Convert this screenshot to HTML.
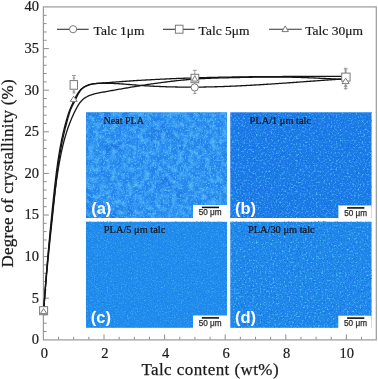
<!DOCTYPE html>
<html><head><meta charset="utf-8"><title>Degree of crystallinity vs talc content</title>
<style>html,body{margin:0;padding:0;background:#fff;} svg{display:block;}</style>
</head><body>
<svg width="378" height="379" viewBox="0 0 378 379">
<defs>
<filter id="n1" x="0" y="0" width="100%" height="100%" color-interpolation-filters="sRGB">
<feTurbulence type="fractalNoise" baseFrequency="0.04" numOctaves="2" seed="5" result="t0"/>
<feColorMatrix in="t0" type="matrix" values="0 0 0 0 0.098  0 0 0 0 0.431  0 0 0 0 0.882  2.5 0 0 0 -1.375" result="l0"/>
<feTurbulence type="fractalNoise" baseFrequency="0.18" numOctaves="4" seed="3" result="t1"/>
<feColorMatrix in="t1" type="matrix" values="0 0 0 0 0.333  0 0 0 0 0.725  0 0 0 0 0.980  2.0 0 0 0 -0.800" result="l1"/>
<feTurbulence type="fractalNoise" baseFrequency="0.6" numOctaves="2" seed="17" result="t2"/>
<feColorMatrix in="t2" type="matrix" values="0 0 0 0 0.373  0 0 0 0 0.765  0 0 0 0 0.988  3.0 0 0 0 -1.560" result="l2"/>
<feTurbulence type="fractalNoise" baseFrequency="0.9" numOctaves="1" seed="9" result="t3"/>
<feColorMatrix in="t3" type="matrix" values="0 0 0 0 0.588  0 0 0 0 0.843  0 0 0 0 0.988  4.0 0 0 0 -2.720" result="l3"/>
<feMerge><feMergeNode in="l0"/><feMergeNode in="l1"/><feMergeNode in="l2"/><feMergeNode in="l3"/></feMerge>
</filter>
<filter id="n2" x="0" y="0" width="100%" height="100%" color-interpolation-filters="sRGB">
<feTurbulence type="fractalNoise" baseFrequency="0.55" numOctaves="2" seed="7" result="t0"/>
<feColorMatrix in="t0" type="matrix" values="0 0 0 0 0.294  0 0 0 0 0.725  0 0 0 0 0.980  3.4 0 0 0 -1.768" result="l0"/>
<feTurbulence type="fractalNoise" baseFrequency="1.0" numOctaves="1" seed="57" result="t1"/>
<feColorMatrix in="t1" type="matrix" values="0 0 0 0 0.471  0 0 0 0 0.824  0 0 0 0 0.988  3.0 0 0 0 -1.860" result="l1"/>
<feTurbulence type="fractalNoise" baseFrequency="0.7" numOctaves="2" seed="97" result="t2"/>
<feColorMatrix in="t2" type="matrix" values="0 0 0 0 0.059  0 0 0 0 0.333  0 0 0 0 0.824  2.4 0 0 0 -1.392" result="l2"/>
<feMerge><feMergeNode in="l0"/><feMergeNode in="l1"/><feMergeNode in="l2"/></feMerge>
</filter>
<filter id="n3" x="0" y="0" width="100%" height="100%" color-interpolation-filters="sRGB">
<feTurbulence type="fractalNoise" baseFrequency="0.7" numOctaves="2" seed="11" result="t0"/>
<feColorMatrix in="t0" type="matrix" values="0 0 0 0 0.294  0 0 0 0 0.706  0 0 0 0 0.973  2.2 0 0 0 -1.144" result="l0"/>
<feTurbulence type="fractalNoise" baseFrequency="1.2" numOctaves="1" seed="61" result="t1"/>
<feColorMatrix in="t1" type="matrix" values="0 0 0 0 0.431  0 0 0 0 0.784  0 0 0 0 0.980  3.0 0 0 0 -1.920" result="l1"/>
<feTurbulence type="fractalNoise" baseFrequency="0.8" numOctaves="2" seed="101" result="t2"/>
<feColorMatrix in="t2" type="matrix" values="0 0 0 0 0.078  0 0 0 0 0.412  0 0 0 0 0.863  2.0 0 0 0 -1.200" result="l2"/>
<feMerge><feMergeNode in="l0"/><feMergeNode in="l1"/><feMergeNode in="l2"/></feMerge>
</filter>
<filter id="n4" x="0" y="0" width="100%" height="100%" color-interpolation-filters="sRGB">
<feTurbulence type="fractalNoise" baseFrequency="0.55" numOctaves="2" seed="13" result="t0"/>
<feColorMatrix in="t0" type="matrix" values="0 0 0 0 0.314  0 0 0 0 0.765  0 0 0 0 0.980  3.2 0 0 0 -1.696" result="l0"/>
<feTurbulence type="fractalNoise" baseFrequency="1.0" numOctaves="1" seed="63" result="t1"/>
<feColorMatrix in="t1" type="matrix" values="0 0 0 0 0.471  0 0 0 0 0.824  0 0 0 0 0.988  3.0 0 0 0 -1.890" result="l1"/>
<feTurbulence type="fractalNoise" baseFrequency="0.7" numOctaves="2" seed="103" result="t2"/>
<feColorMatrix in="t2" type="matrix" values="0 0 0 0 0.059  0 0 0 0 0.333  0 0 0 0 0.824  2.4 0 0 0 -1.392" result="l2"/>
<feMerge><feMergeNode in="l0"/><feMergeNode in="l1"/><feMergeNode in="l2"/></feMerge>
</filter>
</defs>
<rect width="378" height="379" fill="#fff"/>
<rect x="43.4" y="6.9" width="332.9" height="333.0" fill="none" stroke="#999" stroke-width="1.2"/>
<line x1="43.4" y1="331.48" x2="46.60" y2="331.48" stroke="#8c8c8c" stroke-width="1"/>
<line x1="43.4" y1="323.16" x2="46.60" y2="323.16" stroke="#8c8c8c" stroke-width="1"/>
<line x1="43.4" y1="314.84" x2="46.60" y2="314.84" stroke="#8c8c8c" stroke-width="1"/>
<line x1="43.4" y1="306.52" x2="46.60" y2="306.52" stroke="#8c8c8c" stroke-width="1"/>
<line x1="43.4" y1="298.20" x2="48.90" y2="298.20" stroke="#8c8c8c" stroke-width="1"/>
<line x1="43.4" y1="289.88" x2="46.60" y2="289.88" stroke="#8c8c8c" stroke-width="1"/>
<line x1="43.4" y1="281.56" x2="46.60" y2="281.56" stroke="#8c8c8c" stroke-width="1"/>
<line x1="43.4" y1="273.24" x2="46.60" y2="273.24" stroke="#8c8c8c" stroke-width="1"/>
<line x1="43.4" y1="264.92" x2="46.60" y2="264.92" stroke="#8c8c8c" stroke-width="1"/>
<line x1="43.4" y1="256.60" x2="48.90" y2="256.60" stroke="#8c8c8c" stroke-width="1"/>
<line x1="43.4" y1="248.28" x2="46.60" y2="248.28" stroke="#8c8c8c" stroke-width="1"/>
<line x1="43.4" y1="239.96" x2="46.60" y2="239.96" stroke="#8c8c8c" stroke-width="1"/>
<line x1="43.4" y1="231.64" x2="46.60" y2="231.64" stroke="#8c8c8c" stroke-width="1"/>
<line x1="43.4" y1="223.32" x2="46.60" y2="223.32" stroke="#8c8c8c" stroke-width="1"/>
<line x1="43.4" y1="215.00" x2="48.90" y2="215.00" stroke="#8c8c8c" stroke-width="1"/>
<line x1="43.4" y1="206.68" x2="46.60" y2="206.68" stroke="#8c8c8c" stroke-width="1"/>
<line x1="43.4" y1="198.36" x2="46.60" y2="198.36" stroke="#8c8c8c" stroke-width="1"/>
<line x1="43.4" y1="190.04" x2="46.60" y2="190.04" stroke="#8c8c8c" stroke-width="1"/>
<line x1="43.4" y1="181.72" x2="46.60" y2="181.72" stroke="#8c8c8c" stroke-width="1"/>
<line x1="43.4" y1="173.40" x2="48.90" y2="173.40" stroke="#8c8c8c" stroke-width="1"/>
<line x1="43.4" y1="165.08" x2="46.60" y2="165.08" stroke="#8c8c8c" stroke-width="1"/>
<line x1="43.4" y1="156.76" x2="46.60" y2="156.76" stroke="#8c8c8c" stroke-width="1"/>
<line x1="43.4" y1="148.44" x2="46.60" y2="148.44" stroke="#8c8c8c" stroke-width="1"/>
<line x1="43.4" y1="140.12" x2="46.60" y2="140.12" stroke="#8c8c8c" stroke-width="1"/>
<line x1="43.4" y1="131.80" x2="48.90" y2="131.80" stroke="#8c8c8c" stroke-width="1"/>
<line x1="43.4" y1="123.48" x2="46.60" y2="123.48" stroke="#8c8c8c" stroke-width="1"/>
<line x1="43.4" y1="115.16" x2="46.60" y2="115.16" stroke="#8c8c8c" stroke-width="1"/>
<line x1="43.4" y1="106.84" x2="46.60" y2="106.84" stroke="#8c8c8c" stroke-width="1"/>
<line x1="43.4" y1="98.52" x2="46.60" y2="98.52" stroke="#8c8c8c" stroke-width="1"/>
<line x1="43.4" y1="90.20" x2="48.90" y2="90.20" stroke="#8c8c8c" stroke-width="1"/>
<line x1="43.4" y1="81.88" x2="46.60" y2="81.88" stroke="#8c8c8c" stroke-width="1"/>
<line x1="43.4" y1="73.56" x2="46.60" y2="73.56" stroke="#8c8c8c" stroke-width="1"/>
<line x1="43.4" y1="65.24" x2="46.60" y2="65.24" stroke="#8c8c8c" stroke-width="1"/>
<line x1="43.4" y1="56.92" x2="46.60" y2="56.92" stroke="#8c8c8c" stroke-width="1"/>
<line x1="43.4" y1="48.60" x2="48.90" y2="48.60" stroke="#8c8c8c" stroke-width="1"/>
<line x1="43.4" y1="40.28" x2="46.60" y2="40.28" stroke="#8c8c8c" stroke-width="1"/>
<line x1="43.4" y1="31.96" x2="46.60" y2="31.96" stroke="#8c8c8c" stroke-width="1"/>
<line x1="43.4" y1="23.64" x2="46.60" y2="23.64" stroke="#8c8c8c" stroke-width="1"/>
<line x1="43.4" y1="15.32" x2="46.60" y2="15.32" stroke="#8c8c8c" stroke-width="1"/>
<line x1="58.55" y1="339.6" x2="58.55" y2="336.80" stroke="#8c8c8c" stroke-width="1"/>
<line x1="73.70" y1="339.6" x2="73.70" y2="336.80" stroke="#8c8c8c" stroke-width="1"/>
<line x1="88.85" y1="339.6" x2="88.85" y2="336.80" stroke="#8c8c8c" stroke-width="1"/>
<line x1="104.00" y1="339.6" x2="104.00" y2="334.40" stroke="#8c8c8c" stroke-width="1"/>
<line x1="119.15" y1="339.6" x2="119.15" y2="336.80" stroke="#8c8c8c" stroke-width="1"/>
<line x1="134.30" y1="339.6" x2="134.30" y2="336.80" stroke="#8c8c8c" stroke-width="1"/>
<line x1="149.45" y1="339.6" x2="149.45" y2="336.80" stroke="#8c8c8c" stroke-width="1"/>
<line x1="164.60" y1="339.6" x2="164.60" y2="334.40" stroke="#8c8c8c" stroke-width="1"/>
<line x1="179.75" y1="339.6" x2="179.75" y2="336.80" stroke="#8c8c8c" stroke-width="1"/>
<line x1="194.90" y1="339.6" x2="194.90" y2="336.80" stroke="#8c8c8c" stroke-width="1"/>
<line x1="210.05" y1="339.6" x2="210.05" y2="336.80" stroke="#8c8c8c" stroke-width="1"/>
<line x1="225.20" y1="339.6" x2="225.20" y2="334.40" stroke="#8c8c8c" stroke-width="1"/>
<line x1="240.35" y1="339.6" x2="240.35" y2="336.80" stroke="#8c8c8c" stroke-width="1"/>
<line x1="255.50" y1="339.6" x2="255.50" y2="336.80" stroke="#8c8c8c" stroke-width="1"/>
<line x1="270.65" y1="339.6" x2="270.65" y2="336.80" stroke="#8c8c8c" stroke-width="1"/>
<line x1="285.80" y1="339.6" x2="285.80" y2="334.40" stroke="#8c8c8c" stroke-width="1"/>
<line x1="300.95" y1="339.6" x2="300.95" y2="336.80" stroke="#8c8c8c" stroke-width="1"/>
<line x1="316.10" y1="339.6" x2="316.10" y2="336.80" stroke="#8c8c8c" stroke-width="1"/>
<line x1="331.25" y1="339.6" x2="331.25" y2="336.80" stroke="#8c8c8c" stroke-width="1"/>
<line x1="346.40" y1="339.6" x2="346.40" y2="334.40" stroke="#8c8c8c" stroke-width="1"/>
<line x1="361.55" y1="339.6" x2="361.55" y2="336.80" stroke="#8c8c8c" stroke-width="1"/>
<rect x="86" y="112.3" width="141" height="105.7" fill="#2486ec"/>
<rect x="86" y="112.3" width="141" height="105.7" filter="url(#n1)" opacity="1"/>
<rect x="193" y="205" width="34" height="13.2" fill="#fff"/>
<rect x="201.80" y="206.60" width="17.2" height="1.6" fill="#111"/>
<text x="210.20" y="215.40" font-family="Liberation Sans, sans-serif" font-size="8.2" fill="#2a2a2a" stroke="#2a2a2a" stroke-width="0.25" text-anchor="middle">50 μm</text>
<text x="103.6" y="124" font-family="Liberation Serif, serif" font-size="10" fill="#15151f" stroke="#15151f" stroke-width="0.22">Neat PLA</text>
<text x="91.2" y="213.5" font-family="Liberation Sans, sans-serif" font-size="16.5" font-weight="bold" fill="#fff">(a)</text>
<rect x="230.3" y="112.3" width="141.2" height="105.7" fill="#1c7ae6"/>
<rect x="230.3" y="112.3" width="141.2" height="105.7" filter="url(#n2)" opacity="1"/>
<rect x="338.4" y="205.5" width="33.1" height="13" fill="#fff"/>
<rect x="347.20" y="207.10" width="17.2" height="1.6" fill="#111"/>
<text x="355.60" y="215.90" font-family="Liberation Sans, sans-serif" font-size="8.2" fill="#2a2a2a" stroke="#2a2a2a" stroke-width="0.25" text-anchor="middle">50 μm</text>
<text x="249.5" y="124.3" font-family="Liberation Serif, serif" font-size="10.4" fill="#15151f" stroke="#15151f" stroke-width="0.22">PLA/1 μm talc</text>
<text x="234.9" y="213.5" font-family="Liberation Sans, sans-serif" font-size="16.5" font-weight="bold" fill="#fff">(b)</text>
<rect x="86" y="221.8" width="141" height="106" fill="#1f8aec"/>
<rect x="86" y="221.8" width="141" height="106" filter="url(#n3)" opacity="1"/>
<rect x="193" y="315.5" width="34" height="12.8" fill="#fff"/>
<rect x="201.80" y="317.10" width="17.2" height="1.6" fill="#111"/>
<text x="210.20" y="325.90" font-family="Liberation Sans, sans-serif" font-size="8.2" fill="#2a2a2a" stroke="#2a2a2a" stroke-width="0.25" text-anchor="middle">50 μm</text>
<text x="103.8" y="233.4" font-family="Liberation Serif, serif" font-size="10.4" fill="#15151f" stroke="#15151f" stroke-width="0.22">PLA/5 μm talc</text>
<text x="90.8" y="323.1" font-family="Liberation Sans, sans-serif" font-size="16.5" font-weight="bold" fill="#fff">(c)</text>
<rect x="230.3" y="221.8" width="141.2" height="106" fill="#1f86ea"/>
<rect x="230.3" y="221.8" width="141.2" height="106" filter="url(#n4)" opacity="1"/>
<rect x="338.3" y="315.7" width="33.2" height="12.6" fill="#fff"/>
<rect x="347.10" y="317.30" width="17.2" height="1.6" fill="#111"/>
<text x="355.50" y="326.10" font-family="Liberation Sans, sans-serif" font-size="8.2" fill="#2a2a2a" stroke="#2a2a2a" stroke-width="0.25" text-anchor="middle">50 μm</text>
<text x="247.9" y="233.2" font-family="Liberation Serif, serif" font-size="10.4" fill="#15151f" stroke="#15151f" stroke-width="0.22">PLA/30 μm talc</text>
<text x="234.9" y="323.1" font-family="Liberation Sans, sans-serif" font-size="16.5" font-weight="bold" fill="#fff">(d)</text>
<path d="M43.73,310.71 L43.81,309.48 L43.89,308.25 L43.97,307.01 L44.05,305.78 L44.13,304.55 L44.21,303.31 L44.30,302.08 L44.38,300.85 L44.46,299.62 L44.55,298.38 L44.64,297.15 L44.72,295.92 L44.81,294.68 L44.90,293.45 L44.99,292.22 L45.08,290.99 L45.17,289.75 L45.26,288.52 L45.35,287.29 L45.44,286.06 L45.53,284.82 L45.63,283.59 L45.72,282.36 L45.82,281.13 L45.91,279.89 L46.01,278.66 L46.11,277.43 L46.20,276.20 L46.30,274.97 L46.40,273.73 L46.50,272.50 L46.60,271.27 L46.70,270.04 L46.80,268.81 L46.90,267.58 L47.01,266.34 L47.11,265.11 L47.21,263.88 L47.32,262.65 L47.42,261.42 L47.53,260.19 L47.63,258.95 L47.74,257.72 L47.85,256.49 L47.95,255.26 L48.06,254.03 L48.17,252.80 L48.28,251.57 L48.39,250.34 L48.50,249.11 L48.61,247.87 L48.72,246.64 L48.83,245.41 L48.95,244.18 L49.06,242.95 L49.17,241.72 L49.29,240.49 L49.40,239.26 L49.51,238.03 L49.63,236.80 L49.75,235.57 L49.86,234.34 L49.98,233.11 L50.10,231.88 L50.21,230.65 L50.33,229.41 L50.45,228.18 L50.57,226.95 L50.69,225.72 L50.81,224.49 L50.93,223.26 L51.05,222.03 L51.17,220.80 L51.29,219.57 L51.41,218.34 L51.53,217.11 L51.66,215.88 L51.78,214.65 L51.90,213.42 L52.03,212.19 L52.15,210.96 L52.27,209.74 L52.40,208.51 L52.52,207.28 L52.65,206.05 L52.78,204.82 L52.90,203.59 L53.03,202.36 L53.16,201.13 L53.28,199.90 L53.41,198.67 L53.54,197.44 L53.67,196.21 L53.80,194.98 L53.93,193.75 L54.06,192.52 L54.19,191.30 L54.32,190.07 L54.45,188.84 L54.59,187.61 L54.72,186.38 L54.86,185.15 L55.00,183.93 L55.14,182.70 L55.28,181.47 L55.42,180.24 L55.57,179.02 L55.71,177.79 L55.86,176.56 L56.01,175.34 L56.16,174.11 L56.32,172.89 L56.47,171.66 L56.63,170.43 L56.80,169.21 L56.96,167.99 L57.13,166.76 L57.30,165.54 L57.47,164.31 L57.64,163.09 L57.82,161.87 L58.00,160.65 L58.19,159.43 L58.37,158.20 L58.56,156.98 L58.76,155.76 L58.96,154.54 L59.16,153.32 L59.36,152.10 L59.57,150.89 L59.78,149.67 L60.00,148.45 L60.22,147.23 L60.44,146.02 L60.67,144.80 L60.91,143.59 L61.14,142.37 L61.38,141.16 L61.63,139.95 L61.88,138.73 L62.14,137.52 L62.40,136.31 L62.66,135.10 L62.93,133.89 L63.21,132.68 L63.49,131.48 L63.78,130.27 L64.07,129.07 L64.37,127.87 L64.67,126.67 L64.98,125.47 L65.30,124.28 L65.62,123.08 L65.95,121.89 L66.29,120.70 L66.63,119.52 L66.98,118.34 L67.33,117.16 L67.70,115.98 L68.07,114.81 L68.45,113.64 L68.84,112.48 L69.25,111.32 L69.68,110.17 L70.12,109.03 L70.59,107.90 L71.07,106.77 L71.57,105.65 L72.08,104.53 L72.61,103.41 L73.14,102.29 L73.68,101.16 L74.23,100.04 L74.79,98.90 L75.35,97.77 L75.93,96.65 L76.53,95.54 L77.15,94.45 L77.80,93.38 L78.49,92.36 L79.22,91.37 L79.99,90.43 L80.81,89.54 L81.69,88.71 L82.62,87.94 L83.60,87.24 L84.63,86.61 L85.71,86.04 L86.82,85.53 L87.96,85.08 L89.12,84.70 L90.31,84.37 L91.51,84.10 L92.73,83.88 L93.96,83.69 L95.21,83.55 L96.46,83.42 L97.71,83.32 L98.97,83.24 L100.22,83.16 L101.48,83.09 L102.72,83.01 L103.96,82.92 L105.20,82.83 L106.43,82.74 L107.65,82.64 L108.88,82.54 L110.10,82.44 L111.33,82.35 L112.55,82.25 L113.78,82.15 L115.01,82.06 L116.24,81.96 L117.46,81.87 L118.69,81.78 L119.92,81.69 L121.15,81.60 L122.38,81.51 L123.62,81.42 L124.85,81.33 L126.08,81.25 L127.31,81.16 L128.54,81.08 L129.78,80.99 L131.01,80.91 L132.24,80.83 L133.48,80.75 L134.71,80.67 L135.95,80.59 L137.18,80.52 L138.42,80.44 L139.65,80.36 L140.88,80.29 L142.12,80.22 L143.35,80.14 L144.59,80.07 L145.82,80.00 L147.06,79.93 L148.29,79.86 L149.53,79.79 L150.76,79.73 L152.00,79.66 L153.23,79.60 L154.47,79.53 L155.70,79.47 L156.93,79.41 L158.17,79.34 L159.40,79.28 L160.64,79.22 L161.87,79.16 L163.11,79.11 L164.34,79.05 L165.58,78.99 L166.81,78.94 L168.05,78.88 L169.28,78.83 L170.52,78.77 L171.75,78.72 L172.99,78.67 L174.22,78.62 L175.46,78.57 L176.69,78.52 L177.93,78.47 L179.16,78.42 L180.40,78.38 L181.64,78.33 L182.87,78.29 L184.11,78.24 L185.34,78.20 L186.58,78.15 L187.81,78.11 L189.05,78.07 L190.28,78.03 L191.52,77.99 L192.75,77.95 L193.99,77.91 L195.22,77.87 L196.46,77.83 L197.69,77.80 L198.93,77.76 L200.16,77.72 L201.40,77.69 L202.64,77.65 L203.87,77.62 L205.11,77.59 L206.34,77.56 L207.58,77.52 L208.81,77.49 L210.05,77.46 L211.28,77.43 L212.52,77.40 L213.76,77.37 L214.99,77.35 L216.23,77.32 L217.46,77.29 L218.70,77.26 L219.93,77.24 L221.17,77.21 L222.41,77.19 L223.64,77.16 L224.88,77.14 L226.11,77.12 L227.35,77.10 L228.58,77.07 L229.82,77.05 L231.06,77.03 L232.29,77.01 L233.53,76.99 L234.76,76.97 L236.00,76.95 L237.23,76.93 L238.47,76.91 L239.71,76.90 L240.94,76.88 L242.18,76.86 L243.41,76.85 L244.65,76.83 L245.89,76.81 L247.12,76.80 L248.36,76.79 L249.59,76.77 L250.83,76.76 L252.06,76.74 L253.30,76.73 L254.54,76.72 L255.77,76.71 L257.01,76.69 L258.24,76.68 L259.48,76.67 L260.72,76.66 L261.95,76.65 L263.19,76.64 L264.42,76.63 L265.66,76.62 L266.90,76.61 L268.13,76.60 L269.37,76.59 L270.60,76.59 L271.84,76.58 L273.08,76.57 L274.31,76.56 L275.55,76.56 L276.78,76.55 L278.02,76.54 L279.26,76.54 L280.49,76.53 L281.73,76.53 L282.96,76.52 L284.20,76.52 L285.44,76.51 L286.67,76.51 L287.91,76.50 L289.14,76.50 L290.38,76.49 L291.62,76.49 L292.85,76.49 L294.09,76.48 L295.32,76.48 L296.56,76.48 L297.80,76.47 L299.03,76.47 L300.27,76.47 L301.50,76.47 L302.74,76.46 L303.98,76.46 L305.21,76.46 L306.45,76.46 L307.68,76.46 L308.92,76.45 L310.16,76.45 L311.39,76.45 L312.63,76.45 L313.86,76.45 L315.10,76.45 L316.34,76.45 L317.57,76.44 L318.81,76.44 L320.04,76.44 L321.28,76.44 L322.52,76.44 L323.75,76.44 L324.99,76.44 L326.23,76.44 L327.46,76.44 L328.70,76.44 L329.93,76.44 L331.17,76.44 L332.40,76.44 L333.64,76.44 L334.88,76.43 L336.11,76.43 L337.35,76.43 L338.58,76.43 L339.82,76.43 L341.06,76.43 L342.29,76.43 L343.53,76.43 L344.76,76.43 L346.00,76.43" fill="none" stroke="#141414" stroke-width="1.3" stroke-linejoin="round" stroke-linecap="round"/>
<path d="M43.71,310.72 L43.80,309.48 L43.88,308.25 L43.97,307.02 L44.06,305.79 L44.15,304.55 L44.24,303.32 L44.33,302.09 L44.42,300.86 L44.51,299.63 L44.61,298.40 L44.70,297.16 L44.80,295.93 L44.89,294.70 L44.99,293.47 L45.09,292.24 L45.19,291.01 L45.29,289.78 L45.39,288.55 L45.50,287.32 L45.60,286.09 L45.71,284.86 L45.81,283.63 L45.92,282.40 L46.03,281.17 L46.13,279.94 L46.24,278.71 L46.35,277.48 L46.46,276.25 L46.57,275.02 L46.69,273.79 L46.80,272.56 L46.91,271.33 L47.03,270.10 L47.14,268.87 L47.26,267.65 L47.37,266.42 L47.49,265.19 L47.61,263.96 L47.73,262.73 L47.84,261.50 L47.96,260.27 L48.08,259.04 L48.20,257.82 L48.33,256.59 L48.45,255.36 L48.57,254.13 L48.69,252.90 L48.81,251.67 L48.94,250.45 L49.06,249.22 L49.19,247.99 L49.31,246.76 L49.44,245.53 L49.56,244.31 L49.69,243.08 L49.81,241.85 L49.94,240.62 L50.07,239.39 L50.19,238.17 L50.32,236.94 L50.45,235.71 L50.58,234.48 L50.70,233.25 L50.83,232.03 L50.96,230.80 L51.09,229.57 L51.22,228.34 L51.35,227.12 L51.48,225.89 L51.61,224.66 L51.74,223.43 L51.87,222.20 L52.00,220.98 L52.13,219.75 L52.26,218.52 L52.39,217.29 L52.51,216.06 L52.64,214.84 L52.77,213.61 L52.90,212.38 L53.03,211.15 L53.16,209.92 L53.29,208.70 L53.42,207.47 L53.55,206.24 L53.68,205.01 L53.81,203.78 L53.94,202.56 L54.07,201.33 L54.20,200.10 L54.33,198.87 L54.46,197.64 L54.58,196.41 L54.71,195.18 L54.84,193.96 L54.97,192.73 L55.10,191.50 L55.23,190.27 L55.36,189.04 L55.49,187.81 L55.63,186.59 L55.76,185.36 L55.90,184.13 L56.03,182.90 L56.17,181.68 L56.31,180.45 L56.45,179.22 L56.59,178.00 L56.74,176.77 L56.88,175.55 L57.03,174.32 L57.18,173.09 L57.33,171.87 L57.49,170.65 L57.65,169.42 L57.81,168.20 L57.97,166.97 L58.14,165.75 L58.31,164.53 L58.48,163.31 L58.65,162.09 L58.83,160.87 L59.01,159.65 L59.20,158.43 L59.39,157.21 L59.58,155.99 L59.78,154.77 L59.98,153.55 L60.18,152.34 L60.39,151.12 L60.61,149.91 L60.83,148.69 L61.05,147.48 L61.28,146.27 L61.51,145.05 L61.74,143.84 L61.99,142.63 L62.23,141.42 L62.49,140.21 L62.74,139.01 L63.01,137.80 L63.28,136.59 L63.55,135.39 L63.83,134.18 L64.11,132.98 L64.40,131.78 L64.69,130.57 L64.99,129.37 L65.29,128.17 L65.59,126.98 L65.90,125.78 L66.21,124.58 L66.53,123.39 L66.85,122.19 L67.17,121.00 L67.49,119.81 L67.82,118.62 L68.16,117.43 L68.49,116.24 L68.83,115.05 L69.17,113.87 L69.54,112.69 L69.92,111.52 L70.34,110.37 L70.79,109.23 L71.28,108.10 L71.80,106.99 L72.34,105.88 L72.89,104.78 L73.45,103.68 L74.02,102.58 L74.58,101.48 L75.14,100.37 L75.67,99.24 L76.20,98.11 L76.73,96.98 L77.27,95.86 L77.82,94.74 L78.41,93.65 L79.04,92.57 L79.72,91.53 L80.45,90.54 L81.24,89.61 L82.10,88.75 L83.03,87.98 L84.03,87.28 L85.08,86.65 L86.17,86.09 L87.30,85.60 L88.46,85.16 L89.64,84.79 L90.83,84.46 L92.04,84.19 L93.26,83.96 L94.48,83.77 L95.72,83.62 L96.96,83.49 L98.20,83.40 L99.45,83.33 L100.69,83.29 L101.93,83.26 L103.17,83.24 L104.41,83.23 L105.64,83.24 L106.87,83.25 L108.10,83.27 L109.32,83.30 L110.55,83.34 L111.78,83.38 L113.01,83.43 L114.24,83.49 L115.46,83.55 L116.69,83.62 L117.92,83.69 L119.15,83.77 L120.38,83.85 L121.61,83.94 L122.85,84.02 L124.08,84.12 L125.31,84.21 L126.54,84.31 L127.77,84.40 L129.01,84.50 L130.24,84.60 L131.47,84.70 L132.70,84.80 L133.94,84.90 L135.17,85.00 L136.40,85.10 L137.64,85.20 L138.87,85.29 L140.10,85.38 L141.34,85.47 L142.57,85.56 L143.80,85.65 L145.04,85.73 L146.27,85.81 L147.50,85.88 L148.74,85.96 L149.97,86.03 L151.21,86.10 L152.44,86.17 L153.67,86.23 L154.91,86.29 L156.14,86.35 L157.37,86.41 L158.61,86.47 L159.84,86.52 L161.07,86.57 L162.31,86.62 L163.54,86.66 L164.78,86.71 L166.01,86.75 L167.24,86.79 L168.48,86.82 L169.71,86.86 L170.94,86.89 L172.18,86.92 L173.41,86.95 L174.65,86.97 L175.88,87.00 L177.11,87.02 L178.35,87.04 L179.58,87.06 L180.82,87.07 L182.05,87.09 L183.28,87.10 L184.52,87.11 L185.75,87.11 L186.98,87.12 L188.22,87.12 L189.45,87.13 L190.69,87.13 L191.92,87.12 L193.15,87.12 L194.39,87.11 L195.62,87.11 L196.86,87.10 L198.09,87.09 L199.32,87.07 L200.56,87.06 L201.79,87.04 L203.02,87.03 L204.26,87.01 L205.49,86.99 L206.73,86.96 L207.96,86.94 L209.19,86.91 L210.43,86.89 L211.66,86.86 L212.90,86.83 L214.13,86.80 L215.36,86.76 L216.60,86.73 L217.83,86.69 L219.06,86.65 L220.30,86.61 L221.53,86.57 L222.76,86.53 L224.00,86.49 L225.23,86.44 L226.47,86.40 L227.70,86.35 L228.93,86.30 L230.17,86.25 L231.40,86.20 L232.63,86.15 L233.87,86.10 L235.10,86.04 L236.33,85.99 L237.57,85.93 L238.80,85.87 L240.03,85.81 L241.27,85.75 L242.50,85.69 L243.74,85.63 L244.97,85.56 L246.20,85.50 L247.44,85.43 L248.67,85.37 L249.90,85.30 L251.13,85.23 L252.37,85.16 L253.60,85.09 L254.83,85.02 L256.07,84.95 L257.30,84.88 L258.53,84.81 L259.77,84.73 L261.00,84.66 L262.23,84.58 L263.47,84.51 L264.70,84.43 L265.93,84.35 L267.16,84.27 L268.40,84.19 L269.63,84.11 L270.86,84.03 L272.10,83.95 L273.33,83.87 L274.56,83.79 L275.79,83.71 L277.03,83.62 L278.26,83.54 L279.49,83.45 L280.72,83.37 L281.96,83.29 L283.19,83.20 L284.42,83.11 L285.65,83.03 L286.89,82.94 L288.12,82.85 L289.35,82.77 L290.58,82.68 L291.82,82.59 L293.05,82.50 L294.28,82.42 L295.51,82.33 L296.74,82.24 L297.98,82.15 L299.21,82.06 L300.44,81.97 L301.67,81.88 L302.90,81.79 L304.14,81.70 L305.37,81.61 L306.60,81.52 L307.83,81.43 L309.06,81.34 L310.29,81.25 L311.53,81.16 L312.76,81.07 L313.99,80.98 L315.22,80.89 L316.45,80.80 L317.68,80.71 L318.91,80.63 L320.14,80.54 L321.38,80.45 L322.61,80.36 L323.84,80.27 L325.07,80.18 L326.30,80.09 L327.53,80.01 L328.76,79.92 L329.99,79.83 L331.22,79.74 L332.45,79.66 L333.68,79.57 L334.91,79.49 L336.14,79.40 L337.37,79.32 L338.61,79.23 L339.84,79.15 L341.07,79.06 L342.30,78.98 L343.53,78.90 L344.76,78.82 L345.99,78.73" fill="none" stroke="#141414" stroke-width="1.3" stroke-linejoin="round" stroke-linecap="round"/>
<path d="M43.72,310.71 L43.80,309.50 L43.87,308.30 L43.95,307.09 L44.03,305.88 L44.12,304.68 L44.20,303.47 L44.28,302.26 L44.36,301.05 L44.45,299.85 L44.53,298.64 L44.62,297.43 L44.71,296.23 L44.80,295.02 L44.89,293.81 L44.98,292.60 L45.07,291.40 L45.16,290.19 L45.25,288.98 L45.34,287.78 L45.44,286.57 L45.53,285.37 L45.63,284.16 L45.73,282.95 L45.82,281.75 L45.92,280.54 L46.02,279.33 L46.12,278.13 L46.22,276.92 L46.32,275.72 L46.42,274.51 L46.53,273.30 L46.63,272.10 L46.73,270.89 L46.84,269.69 L46.95,268.48 L47.05,267.28 L47.16,266.07 L47.27,264.87 L47.38,263.66 L47.49,262.45 L47.60,261.25 L47.71,260.04 L47.82,258.84 L47.93,257.63 L48.04,256.43 L48.16,255.22 L48.27,254.02 L48.39,252.82 L48.50,251.61 L48.62,250.41 L48.73,249.20 L48.85,248.00 L48.97,246.79 L49.09,245.59 L49.21,244.38 L49.33,243.18 L49.45,241.97 L49.57,240.77 L49.69,239.57 L49.81,238.36 L49.94,237.16 L50.06,235.95 L50.18,234.75 L50.31,233.55 L50.43,232.34 L50.56,231.14 L50.69,229.94 L50.81,228.73 L50.94,227.53 L51.07,226.33 L51.20,225.12 L51.33,223.92 L51.45,222.72 L51.58,221.51 L51.72,220.31 L51.85,219.11 L51.98,217.90 L52.11,216.70 L52.24,215.50 L52.37,214.29 L52.51,213.09 L52.64,211.89 L52.78,210.69 L52.91,209.48 L53.05,208.28 L53.18,207.08 L53.32,205.88 L53.46,204.67 L53.60,203.47 L53.73,202.27 L53.88,201.07 L54.02,199.87 L54.16,198.66 L54.30,197.46 L54.45,196.26 L54.59,195.06 L54.74,193.86 L54.89,192.66 L55.04,191.46 L55.19,190.26 L55.35,189.06 L55.50,187.86 L55.66,186.66 L55.82,185.46 L55.98,184.26 L56.15,183.06 L56.31,181.86 L56.48,180.66 L56.65,179.46 L56.82,178.27 L57.00,177.07 L57.18,175.87 L57.35,174.67 L57.54,173.48 L57.72,172.28 L57.91,171.08 L58.10,169.89 L58.30,168.69 L58.49,167.50 L58.69,166.31 L58.90,165.11 L59.11,163.92 L59.32,162.73 L59.53,161.54 L59.75,160.35 L59.98,159.16 L60.20,157.97 L60.44,156.78 L60.67,155.60 L60.92,154.41 L61.16,153.23 L61.41,152.04 L61.67,150.86 L61.93,149.68 L62.20,148.50 L62.47,147.32 L62.75,146.15 L63.03,144.97 L63.33,143.80 L63.62,142.63 L63.92,141.45 L64.23,140.29 L64.55,139.12 L64.87,137.96 L65.20,136.79 L65.54,135.63 L65.89,134.47 L66.24,133.32 L66.60,132.17 L66.97,131.01 L67.35,129.87 L67.73,128.72 L68.12,127.58 L68.53,126.44 L68.94,125.30 L69.36,124.16 L69.78,123.03 L70.22,121.90 L70.67,120.78 L71.13,119.65 L71.59,118.53 L72.07,117.42 L72.56,116.31 L73.06,115.20 L73.56,114.09 L74.08,112.99 L74.61,111.89 L75.15,110.80 L75.70,109.70 L76.27,108.62 L76.85,107.54 L77.45,106.48 L78.07,105.44 L78.72,104.42 L79.40,103.43 L80.12,102.47 L80.87,101.54 L81.67,100.66 L82.52,99.83 L83.41,99.05 L84.36,98.32 L85.34,97.64 L86.37,97.02 L87.43,96.45 L88.52,95.92 L89.62,95.45 L90.75,95.01 L91.89,94.62 L93.04,94.27 L94.20,93.94 L95.38,93.65 L96.57,93.38 L97.76,93.12 L98.95,92.89 L100.16,92.66 L101.36,92.44 L102.56,92.22 L103.76,92.01 L104.96,91.79 L106.16,91.57 L107.36,91.36 L108.56,91.14 L109.76,90.93 L110.96,90.71 L112.15,90.50 L113.35,90.29 L114.55,90.07 L115.74,89.86 L116.94,89.65 L118.13,89.44 L119.33,89.23 L120.52,89.02 L121.71,88.81 L122.90,88.60 L124.10,88.40 L125.29,88.19 L126.48,87.99 L127.67,87.78 L128.86,87.58 L130.06,87.38 L131.25,87.18 L132.44,86.98 L133.63,86.78 L134.82,86.59 L136.01,86.39 L137.20,86.20 L138.39,86.00 L139.58,85.81 L140.78,85.62 L141.97,85.43 L143.16,85.24 L144.35,85.06 L145.54,84.87 L146.73,84.69 L147.93,84.51 L149.12,84.33 L150.31,84.15 L151.50,83.98 L152.70,83.80 L153.89,83.63 L155.09,83.46 L156.28,83.29 L157.48,83.12 L158.67,82.95 L159.87,82.79 L161.07,82.63 L162.27,82.47 L163.46,82.31 L164.66,82.15 L165.86,82.00 L167.06,81.85 L168.27,81.70 L169.47,81.55 L170.67,81.41 L171.87,81.26 L173.08,81.12 L174.28,80.99 L175.49,80.85 L176.69,80.72 L177.90,80.59 L179.11,80.46 L180.31,80.33 L181.52,80.21 L182.73,80.09 L183.94,79.98 L185.14,79.86 L186.35,79.75 L187.56,79.64 L188.77,79.54 L189.98,79.44 L191.19,79.34 L192.40,79.25 L193.61,79.15 L194.82,79.07 L196.03,78.98 L197.24,78.90 L198.45,78.82 L199.66,78.75 L200.87,78.68 L202.07,78.61 L203.28,78.55 L204.49,78.49 L205.70,78.43 L206.91,78.37 L208.12,78.32 L209.33,78.27 L210.54,78.23 L211.75,78.18 L212.95,78.14 L214.16,78.10 L215.37,78.06 L216.58,78.03 L217.79,77.99 L219.00,77.96 L220.21,77.93 L221.41,77.90 L222.62,77.87 L223.83,77.84 L225.04,77.81 L226.25,77.79 L227.46,77.76 L228.67,77.74 L229.88,77.71 L231.08,77.69 L232.29,77.66 L233.50,77.63 L234.71,77.61 L235.92,77.58 L237.13,77.56 L238.34,77.53 L239.55,77.50 L240.76,77.47 L241.97,77.45 L243.18,77.42 L244.39,77.39 L245.60,77.36 L246.81,77.34 L248.02,77.31 L249.23,77.28 L250.44,77.26 L251.65,77.23 L252.86,77.21 L254.07,77.19 L255.28,77.16 L256.49,77.14 L257.70,77.12 L258.91,77.10 L260.13,77.08 L261.34,77.07 L262.55,77.05 L263.76,77.03 L264.97,77.02 L266.18,77.01 L267.39,77.00 L268.60,76.99 L269.81,76.99 L271.02,76.98 L272.23,76.98 L273.44,76.98 L274.65,76.99 L275.86,76.99 L277.07,77.00 L278.28,77.01 L279.49,77.02 L280.70,77.03 L281.91,77.04 L283.12,77.06 L284.33,77.08 L285.54,77.10 L286.75,77.12 L287.96,77.14 L289.17,77.17 L290.38,77.19 L291.59,77.22 L292.80,77.25 L294.01,77.28 L295.22,77.31 L296.43,77.35 L297.64,77.38 L298.85,77.42 L300.06,77.46 L301.27,77.50 L302.48,77.54 L303.69,77.58 L304.90,77.63 L306.11,77.67 L307.32,77.72 L308.53,77.76 L309.74,77.81 L310.95,77.86 L312.15,77.91 L313.36,77.96 L314.57,78.01 L315.78,78.06 L316.99,78.12 L318.20,78.17 L319.41,78.23 L320.62,78.28 L321.83,78.34 L323.04,78.40 L324.25,78.46 L325.45,78.51 L326.66,78.57 L327.87,78.63 L329.08,78.69 L330.29,78.75 L331.50,78.81 L332.71,78.88 L333.92,78.94 L335.12,79.00 L336.33,79.06 L337.54,79.13 L338.75,79.19 L339.96,79.25 L341.17,79.32 L342.38,79.38 L343.58,79.44 L344.79,79.51 L346.00,79.57" fill="none" stroke="#141414" stroke-width="1.3" stroke-linejoin="round" stroke-linecap="round"/>
<line x1="73.9" y1="75.5" x2="73.9" y2="93.5" stroke="#888" stroke-width="0.85"/>
<line x1="72.00" y1="75.5" x2="75.80" y2="75.5" stroke="#888" stroke-width="0.85"/>
<line x1="72.60" y1="78.1" x2="75.20" y2="78.1" stroke="#888" stroke-width="0.85"/>
<line x1="72.60" y1="91" x2="75.20" y2="91" stroke="#888" stroke-width="0.85"/>
<line x1="72.40" y1="92.8" x2="75.40" y2="92.8" stroke="#888" stroke-width="0.85"/>
<line x1="194.8" y1="70.3" x2="194.8" y2="94" stroke="#888" stroke-width="0.85"/>
<line x1="192.80" y1="70.3" x2="196.80" y2="70.3" stroke="#888" stroke-width="0.85"/>
<line x1="193.30" y1="93.5" x2="196.30" y2="93.5" stroke="#888" stroke-width="0.85"/>
<line x1="345.7" y1="68.3" x2="345.7" y2="89.7" stroke="#888" stroke-width="0.85"/>
<line x1="343.90" y1="68.3" x2="347.50" y2="68.3" stroke="#888" stroke-width="0.85"/>
<line x1="343.90" y1="69.9" x2="347.50" y2="69.9" stroke="#888" stroke-width="0.85"/>
<line x1="344.40" y1="72" x2="347.00" y2="72" stroke="#888" stroke-width="0.85"/>
<line x1="344.40" y1="85.5" x2="347.00" y2="85.5" stroke="#888" stroke-width="0.85"/>
<line x1="343.90" y1="86.7" x2="347.50" y2="86.7" stroke="#888" stroke-width="0.85"/>
<line x1="343.90" y1="88.6" x2="347.50" y2="88.6" stroke="#888" stroke-width="0.85"/>
<circle cx="194.7" cy="87.4" r="3.6" fill="#fff" stroke="#7a7a7a" stroke-width="1"/>
<rect x="39.60" y="306.70" width="8" height="8" fill="#fff" stroke="#7a7a7a" stroke-width="1"/>
<polygon points="43.60,308.60 46.80,313.60 40.40,313.60" fill="#fff" stroke="#7a7a7a" stroke-width="1" stroke-linejoin="miter"/>
<rect x="70.10" y="80.60" width="7.4" height="8.6" fill="#fff" stroke="#7a7a7a" stroke-width="1"/>
<polygon points="73.70,96.20 77.20,101.40 70.20,101.40" fill="#fff" stroke="#7a7a7a" stroke-width="1" stroke-linejoin="miter"/>
<rect x="191.05" y="74.30" width="7.7" height="8.4" fill="#fff" stroke="#7a7a7a" stroke-width="1"/>
<polygon points="194.80,75.60 197.70,81.10 191.90,81.10" fill="#fff" stroke="#7a7a7a" stroke-width="1" stroke-linejoin="miter"/>
<rect x="341.70" y="73.10" width="8.4" height="8" fill="#fff" stroke="#7a7a7a" stroke-width="1"/>
<polygon points="345.60,78.20 349.20,83.60 342.00,83.60" fill="#fff" stroke="#7a7a7a" stroke-width="1" stroke-linejoin="miter"/>
<line x1="57" y1="29.3" x2="88.7" y2="29.3" stroke="#333" stroke-width="1.1"/>
<circle cx="73.1" cy="29.2" r="3.6" fill="#fff" stroke="#7a7a7a" stroke-width="1"/>
<text x="93.6" y="34.7" font-family="Liberation Serif, serif" font-size="13.5" fill="#1a1a1a" stroke="#1a1a1a" stroke-width="0.2">Talc 1μm</text>
<line x1="163" y1="29.3" x2="194.7" y2="29.3" stroke="#333" stroke-width="1.1"/>
<rect x="175.40" y="25.20" width="7.6" height="8" fill="#fff" stroke="#7a7a7a" stroke-width="1"/>
<text x="198.6" y="34.7" font-family="Liberation Serif, serif" font-size="13.5" fill="#1a1a1a" stroke="#1a1a1a" stroke-width="0.2">Talc 5μm</text>
<line x1="269" y1="29.3" x2="301.8" y2="29.3" stroke="#333" stroke-width="1.1"/>
<polygon points="285.20,25.90 288.40,31.60 282.00,31.60" fill="#fff" stroke="#7a7a7a" stroke-width="1" stroke-linejoin="miter"/>
<text x="305.3" y="34.7" font-family="Liberation Serif, serif" font-size="13.5" fill="#1a1a1a" stroke="#1a1a1a" stroke-width="0.2">Talc 30μm</text>
<text x="39.1" y="344.20" font-family="Liberation Serif, serif" font-size="14.5" fill="#1a1a1a" stroke="#1a1a1a" stroke-width="0.2" text-anchor="end">0</text>
<text x="39.1" y="302.60" font-family="Liberation Serif, serif" font-size="14.5" fill="#1a1a1a" stroke="#1a1a1a" stroke-width="0.2" text-anchor="end">5</text>
<text x="39.1" y="261.00" font-family="Liberation Serif, serif" font-size="14.5" fill="#1a1a1a" stroke="#1a1a1a" stroke-width="0.2" text-anchor="end">10</text>
<text x="39.1" y="219.40" font-family="Liberation Serif, serif" font-size="14.5" fill="#1a1a1a" stroke="#1a1a1a" stroke-width="0.2" text-anchor="end">15</text>
<text x="39.1" y="177.80" font-family="Liberation Serif, serif" font-size="14.5" fill="#1a1a1a" stroke="#1a1a1a" stroke-width="0.2" text-anchor="end">20</text>
<text x="39.1" y="136.20" font-family="Liberation Serif, serif" font-size="14.5" fill="#1a1a1a" stroke="#1a1a1a" stroke-width="0.2" text-anchor="end">25</text>
<text x="39.1" y="94.60" font-family="Liberation Serif, serif" font-size="14.5" fill="#1a1a1a" stroke="#1a1a1a" stroke-width="0.2" text-anchor="end">30</text>
<text x="39.1" y="53.00" font-family="Liberation Serif, serif" font-size="14.5" fill="#1a1a1a" stroke="#1a1a1a" stroke-width="0.2" text-anchor="end">35</text>
<text x="39.1" y="11.40" font-family="Liberation Serif, serif" font-size="14.5" fill="#1a1a1a" stroke="#1a1a1a" stroke-width="0.2" text-anchor="end">40</text>
<text x="44.30" y="357.5" font-family="Liberation Serif, serif" font-size="14.5" fill="#1a1a1a" stroke="#1a1a1a" stroke-width="0.2" text-anchor="middle">0</text>
<text x="104.90" y="357.5" font-family="Liberation Serif, serif" font-size="14.5" fill="#1a1a1a" stroke="#1a1a1a" stroke-width="0.2" text-anchor="middle">2</text>
<text x="165.50" y="357.5" font-family="Liberation Serif, serif" font-size="14.5" fill="#1a1a1a" stroke="#1a1a1a" stroke-width="0.2" text-anchor="middle">4</text>
<text x="226.10" y="357.5" font-family="Liberation Serif, serif" font-size="14.5" fill="#1a1a1a" stroke="#1a1a1a" stroke-width="0.2" text-anchor="middle">6</text>
<text x="286.70" y="357.5" font-family="Liberation Serif, serif" font-size="14.5" fill="#1a1a1a" stroke="#1a1a1a" stroke-width="0.2" text-anchor="middle">8</text>
<text x="346.70" y="357.5" font-family="Liberation Serif, serif" font-size="14.5" fill="#1a1a1a" stroke="#1a1a1a" stroke-width="0.2" text-anchor="middle">10</text>
<text x="141.4" y="375.1" font-family="Liberation Serif, serif" font-size="17" letter-spacing="0.42" fill="#1a1a1a" stroke="#1a1a1a" stroke-width="0.25">Talc content (wt%)</text>
<text transform="translate(12.7,267.5) rotate(-90)" x="0" y="0" font-family="Liberation Serif, serif" font-size="17" letter-spacing="0.21" fill="#1a1a1a" stroke="#1a1a1a" stroke-width="0.25">Degree of crystallinity (%)</text>
</svg>
</body></html>
